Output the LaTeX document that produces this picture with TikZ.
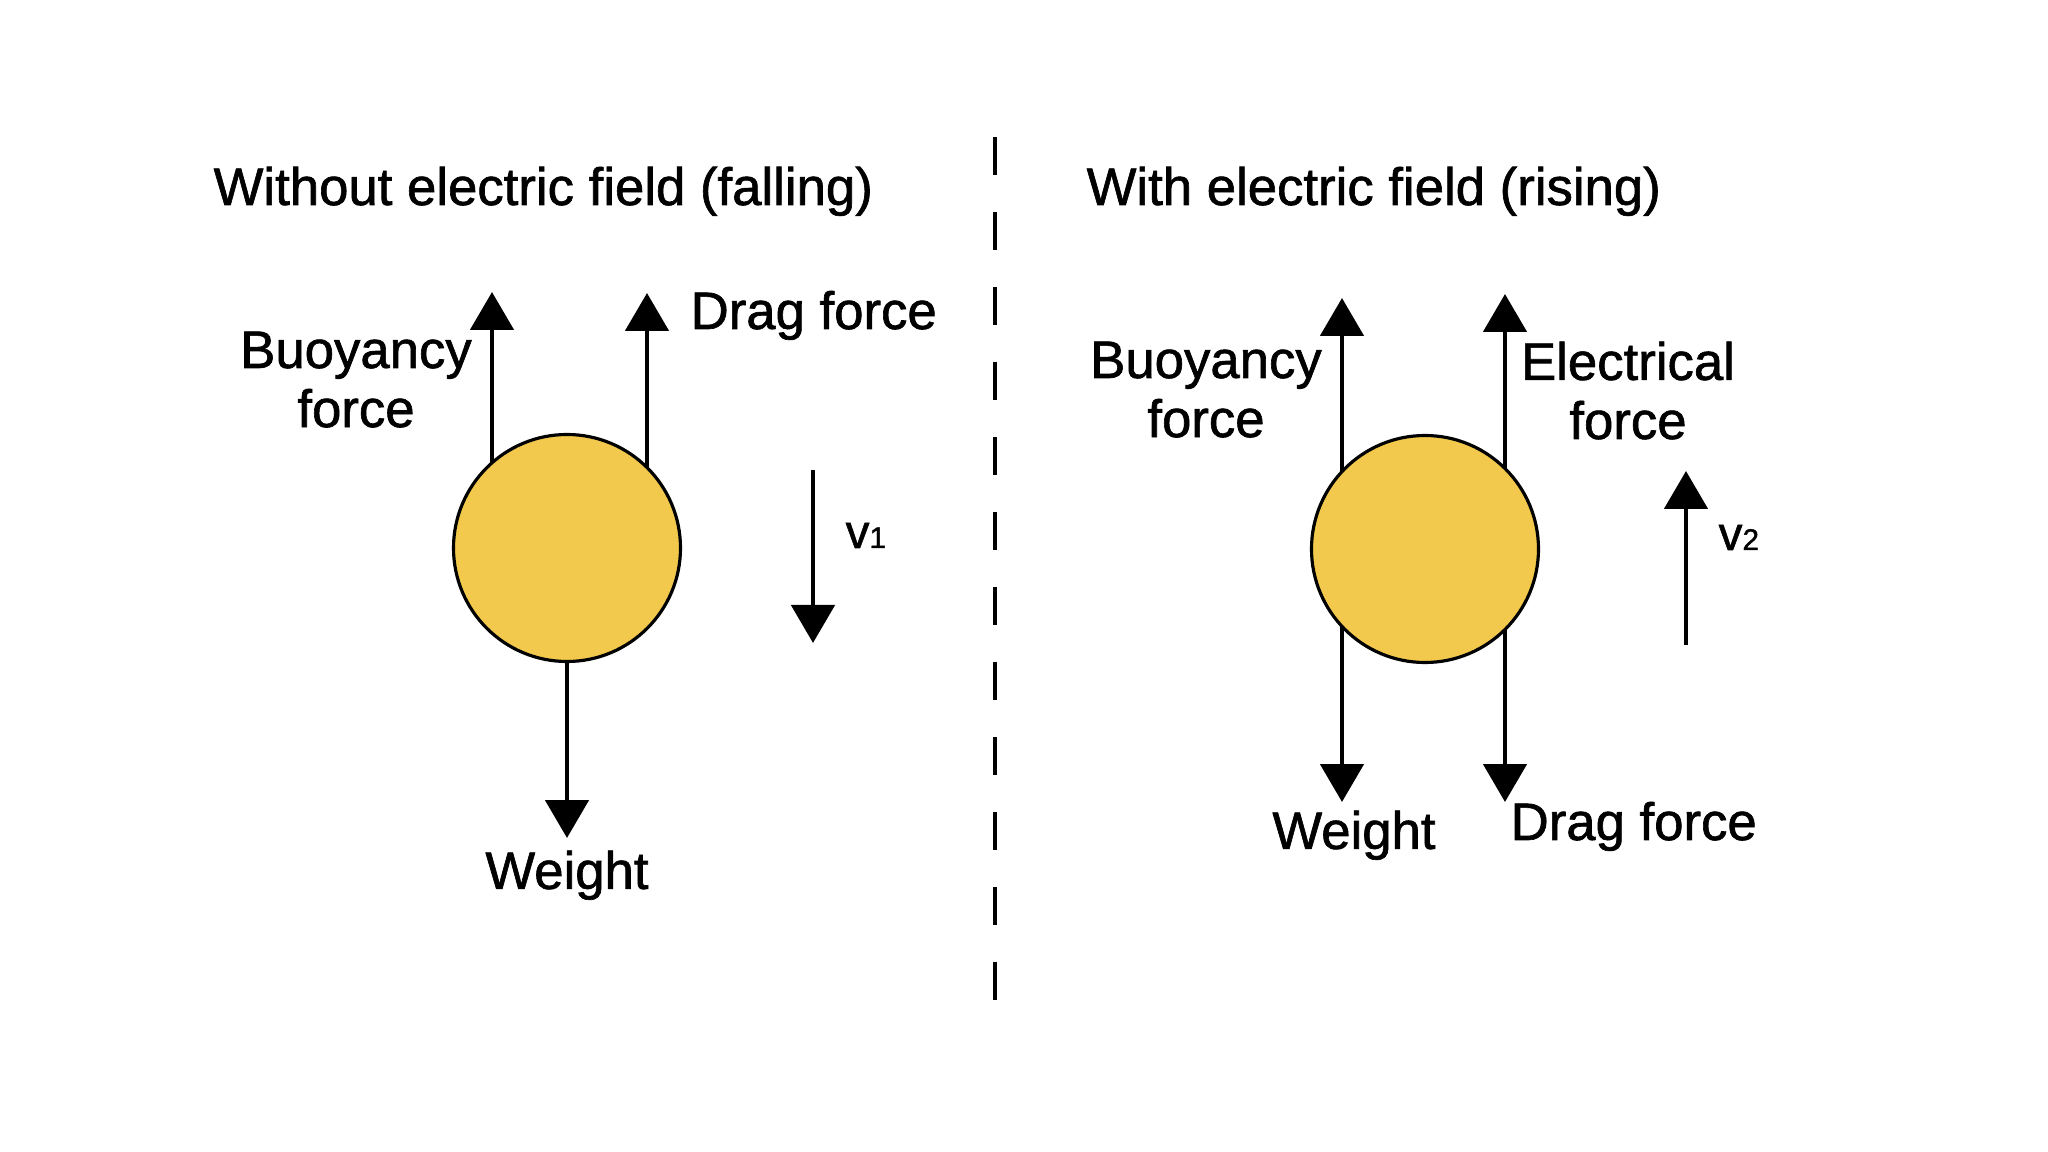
\documentclass[tikz,border=0pt]{standalone}
\usepackage{fontspec}
\setmainfont{Liberation Sans}[FakeBold=1.2]
\usetikzlibrary{arrows.meta,positioning}
\definecolor{dropyellow}{RGB}{242,201,76}

\begin{document}
\begin{tikzpicture}[
    force/.style={-{Triangle[width=4.3mm,length=3.8mm]},line width=1.4pt},
    drop/.style={circle,draw,line width=0.9pt,fill=dropyellow,minimum size=2.27cm,inner sep=0pt,outer sep=0pt},
    lbl/.style={inner sep=0pt,align=center,font=\fontsize{15}{16.8}\selectfont},
    vlbl/.style={inner sep=0pt,font=\fontsize{13.5}{13.5}\selectfont},
    divider/.style={line width=1.4pt,dash pattern=on 3.8mm off 3.7mm}
  ]
  \useasboundingbox[fill=white] (0,0) rectangle (20.48,-11.52);

  % left half: falling drop
  \node[lbl,anchor=base west] (title1) at (2.13,-2.05) {Without electric field (falling)};
  \node[drop] (drop1) at (5.67,-5.48) {};
  \coordinate (buoy1) at (4.92,-2.92);
  \coordinate (drag1) at (6.47,-2.93);
  \coordinate (weight1) at (5.67,-8.38);
  \coordinate (vtop1) at (8.13,-4.70);
  \coordinate (vbot1) at (8.13,-6.43);
  \draw[force] (buoy1 |- drop1.131) -- (buoy1);
  \draw[force] (drag1 |- drop1.45) -- (drag1);
  \draw[force] (drop1.south) -- (weight1);
  \draw[force] (vtop1) -- (vbot1);
  \node[lbl,anchor=north] (buoylbl1) at (3.56,-3.31) {Buoyancy\\force};
  \node[lbl,anchor=base west] (draglbl1) at (6.90,-3.29) {Drag force};
  \node[lbl,below=0.12 of weight1] (weightlbl1) {Weight};
  \node[vlbl,anchor=base west] (vlbl1) at (8.45,-5.48) {v{\fontsize{8.5}{8.5}\selectfont 1}};

  % divider
  \coordinate (divtop) at (9.95,-1.37);
  \coordinate (divbot) at (9.95,-10.00);
  \draw[divider] (divtop) -- (divbot);

  % right half: rising drop
  \node[lbl,anchor=base west] (title2) at (10.86,-2.05) {With electric field (rising)};
  \node[drop] (drop2) at (14.25,-5.49) {};
  \coordinate (buoy2) at (13.42,-2.98);
  \coordinate (elec2) at (15.05,-2.94);
  \coordinate (weight2) at (13.42,-8.02);
  \coordinate (drag2) at (15.05,-8.02);
  \coordinate (vbot2) at (16.86,-6.45);
  \coordinate (vtop2) at (16.86,-4.71);
  \draw[force] (buoy2 |- drop2.137) -- (buoy2);
  \draw[force] (elec2 |- drop2.45) -- (elec2);
  \draw[force] (weight2 |- drop2.223) -- (weight2);
  \draw[force] (drag2 |- drop2.315) -- (drag2);
  \draw[force] (vbot2) -- (vtop2);
  \node[lbl,anchor=north] (buoylbl2) at (12.06,-3.41) {Buoyancy\\force};
  \node[lbl,anchor=north] (eleclbl2) at (16.28,-3.41) {Electrical\\force};
  \node[lbl,below=0.08 of weight2,xshift=0.12cm] (weightlbl2) {Weight};
  \node[lbl,anchor=base west] (draglbl2) at (15.10,-8.40) {Drag force};
  \node[vlbl,anchor=base west] (vlbl2) at (17.18,-5.50) {v{\fontsize{8.5}{8.5}\selectfont 2}};
\end{tikzpicture}
\end{document}
